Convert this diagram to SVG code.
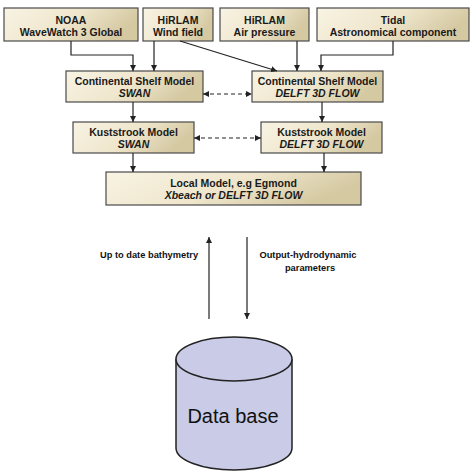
<svg xmlns="http://www.w3.org/2000/svg" width="474" height="474" viewBox="0 0 474 474">
<defs>
<linearGradient id="g" x1="0" y1="0" x2="1" y2="0.3">
<stop offset="0" stop-color="#f8f3e4"/>
<stop offset="0.55" stop-color="#efe6cc"/>
<stop offset="1" stop-color="#d5c9a2"/>
</linearGradient>
<marker id="ah" viewBox="0 0 10 10" refX="10" refY="5" markerWidth="6" markerHeight="6" markerUnits="userSpaceOnUse" orient="auto">
<path d="M0,0 L10,5 L0,10 z" fill="#222"/>
</marker>
<marker id="ahs" viewBox="0 0 10 10" refX="0" refY="5" markerWidth="6" markerHeight="6" markerUnits="userSpaceOnUse" orient="auto">
<path d="M10,0 L0,5 L10,10 z" fill="#222"/>
</marker>
</defs>
<style>
.box{fill:url(#g);stroke:#4a4a4a;stroke-width:1.2}
.t{font-family:"Liberation Sans",Arial,sans-serif;font-size:10.5px;font-weight:bold;fill:#1a1a1a;text-anchor:middle}
.i{font-style:italic}
.c{fill:none;stroke:#222;stroke-width:1.2}
.d{stroke-dasharray:4,3}
.lbl{font-family:"Liberation Sans",Arial,sans-serif;font-size:9.3px;font-weight:bold;fill:#111;text-anchor:middle}
</style>
<rect width="474" height="474" fill="#fff"/>
<g id="noaa"><rect class="box" x="4" y="8" width="134" height="33"/><text class="t" x="71" y="24">NOAA</text><text class="t" x="71" y="36">WaveWatch 3 Global</text></g>
<g id="hirlam-wind"><rect class="box" x="143" y="8" width="70" height="33"/><text class="t" x="178" y="24">HiRLAM</text><text class="t" x="178" y="36">Wind field</text></g>
<g id="hirlam-air"><rect class="box" x="220" y="8" width="89" height="33"/><text class="t" x="264.5" y="24">HiRLAM</text><text class="t" x="264.5" y="36">Air pressure</text></g>
<g id="tidal"><rect class="box" x="317" y="8" width="152" height="33"/><text class="t" x="393" y="24">Tidal</text><text class="t" x="393" y="36">Astronomical component</text></g>
<g id="cs-swan"><rect class="box" x="66" y="71" width="137" height="31"/><text class="t" x="134.5" y="85">Continental Shelf Model</text><text class="t i" x="134.5" y="97">SWAN</text></g>
<g id="cs-delft"><rect class="box" x="252" y="71" width="131" height="31"/><text class="t" x="317.5" y="85">Continental Shelf Model</text><text class="t i" x="317.5" y="97">DELFT 3D FLOW</text></g>
<g id="ks-swan"><rect class="box" x="73" y="122" width="121" height="31"/><text class="t" x="133.5" y="136">Kuststrook Model</text><text class="t i" x="133.5" y="148">SWAN</text></g>
<g id="ks-delft"><rect class="box" x="261" y="122" width="121" height="31"/><text class="t" x="321.5" y="136">Kuststrook Model</text><text class="t i" x="321.5" y="148">DELFT 3D FLOW</text></g>
<g id="local"><rect class="box" x="106" y="172" width="255" height="33"/><text class="t" x="233.5" y="187">Local Model, e.g Egmond</text><text class="t i" x="233.5" y="199">Xbeach or DELFT 3D FLOW</text></g>
<g id="database">
<path d="M176,359 L176,448 A58,22 0 0 0 292,448 L292,359" fill="#c9cbe7" stroke="#222" stroke-width="1.5"/>
<ellipse cx="234" cy="359" rx="58" ry="22" fill="#c9cbe7" stroke="#222" stroke-width="1.5"/>
<text x="233" y="423" font-family="'Liberation Sans',Arial,sans-serif" font-size="20" fill="#111" text-anchor="middle">Data base</text>
</g>
<g id="connectors">
<path class="c" d="M71,41 V55 H133 V71" marker-end="url(#ah)"/>
<path class="c" d="M154,41 V71" marker-end="url(#ah)"/>
<path class="c" d="M180,41 L277,71" marker-end="url(#ah)"/>
<path class="c" d="M297,41 V71" marker-end="url(#ah)"/>
<path class="c" d="M393,41 V55 H321 V71" marker-end="url(#ah)"/>
<path class="c d" d="M203,94 H252" marker-start="url(#ahs)" marker-end="url(#ah)"/>
<path class="c" d="M133,102 V122" marker-end="url(#ah)"/>
<path class="c" d="M322,102 V122" marker-end="url(#ah)"/>
<path class="c d" d="M194,138 H261" marker-start="url(#ahs)" marker-end="url(#ah)"/>
<path class="c" d="M133,153 V172" marker-end="url(#ah)"/>
<path class="c" d="M324,153 V172" marker-end="url(#ah)"/>
<path class="c" d="M209,319 V237" marker-end="url(#ah)"/>
<path class="c" d="M247,237 V319" marker-end="url(#ah)"/>
<text class="lbl" x="149" y="258">Up to date bathymetry</text>
<text class="lbl" x="308" y="258">Output-hydrodynamic</text>
<text class="lbl" x="310" y="271">parameters</text>
</g>
</svg>
